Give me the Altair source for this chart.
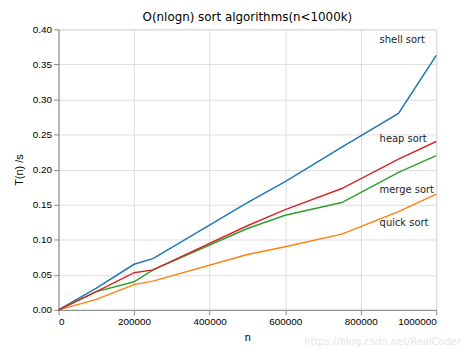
import altair as alt
import pandas as pd

n = [0, 100000, 200000, 250000, 500000, 600000, 750000, 900000, 1000000]
shell = [0, 0.031, 0.065, 0.073, 0.153, 0.183, 0.232, 0.280, 0.363]
quick = [0, 0.015, 0.036, 0.041, 0.079, 0.090, 0.108, 0.140, 0.165]
merge = [0, 0.026, 0.040, 0.057, 0.116, 0.135, 0.153, 0.196, 0.220]
heap = [0, 0.026, 0.053, 0.057, 0.120, 0.143, 0.173, 0.215, 0.240]

series_names = ["shell sort", "quick sort", "merge sort", "heap sort"]
series_colors = ["#1f77b4", "#ff7f0e", "#2ca02c", "#d62728"]

label_names = ["shell sort", "heap sort", "merge sort", "quick sort"]
label_x = [850000, 850000, 850000, 850000]
label_y = [0.38, 0.24, 0.167, 0.12]

x_ticks = [0, 200000, 400000, 600000, 800000, 1000000]
y_ticks = [0, 0.05, 0.10, 0.15, 0.20, 0.25, 0.30, 0.35, 0.40]

rows = []
for k, (name, vals) in enumerate(zip(series_names, [shell, quick, merge, heap])):
    for i, (xv, yv) in enumerate(zip(n, vals)):
        rows.append({"n": xv, "t": yv, "algo": name, "k": k, "i": i})
df = pd.DataFrame(rows)

labels = pd.DataFrame({"name": label_names, "x": label_x, "y": label_y})

xscale = alt.Scale(domain=[0, 1000000], nice=False)
yscale = alt.Scale(domain=[0, 0.4], nice=False)

lines = alt.Chart(df).mark_line(strokeWidth=1.5).encode(
    x=alt.X("n:Q", scale=xscale,
            axis=alt.Axis(values=x_ticks, tickCount=12, format="d", title="n",
                          titleFontWeight="normal", labelOverlap=False, titlePadding=5)),
    y=alt.Y("t:Q", scale=yscale,
            axis=alt.Axis(values=y_ticks, tickCount=12, format=".2f", title="T(n) /s",
                          titleFontWeight="normal", labelOverlap=False, titlePadding=8)),
    color=alt.Color("algo:N", scale=alt.Scale(domain=series_names, range=series_colors), legend=None),
    detail="k:O",
    order="i:Q",
)

texts = alt.Chart(labels).mark_text(align="left", baseline="alphabetic", fontSize=10,
                                    font="DejaVu Sans", color="#222222").encode(
    x=alt.X("x:Q", scale=xscale),
    y=alt.Y("y:Q", scale=yscale),
    text="name:N",
)

watermark = alt.Chart(pd.DataFrame({"w": ["https://blog.csdn.net/RealCoder"]})).mark_text(
    align="right", baseline="middle", fontSize=10, font="DejaVu Sans", color="#e6e6e6"
).encode(x=alt.value(406), y=alt.value(315), text="w:N")

chart = alt.layer(lines, texts, watermark).properties(
    width=381,
    height=283,
    title=alt.TitleParams("O(nlogn) sort algorithms(n<1000k)", fontSize=12,
                          font="DejaVu Sans", fontWeight="normal", color="black", offset=0),
    autosize=alt.AutoSizeParams(type="none"),
    padding={"left": 51, "top": 20, "right": 30, "bottom": 44},
).configure_axis(
    grid=False,
    domainColor="black",
    tickColor="black",
    tickSize=3.5,
    labelColor="black",
    titleColor="black",
    labelFont="DejaVu Sans",
    titleFont="DejaVu Sans",
    labelFontSize=10,
    titleFontSize=10,
    titleFontWeight="normal",
    labelPadding=3,
).configure_view(
    stroke="black", strokeWidth=1
).configure(background="white")

chart.save("out.html", embed_options={"renderer": "svg", "actions": False})
